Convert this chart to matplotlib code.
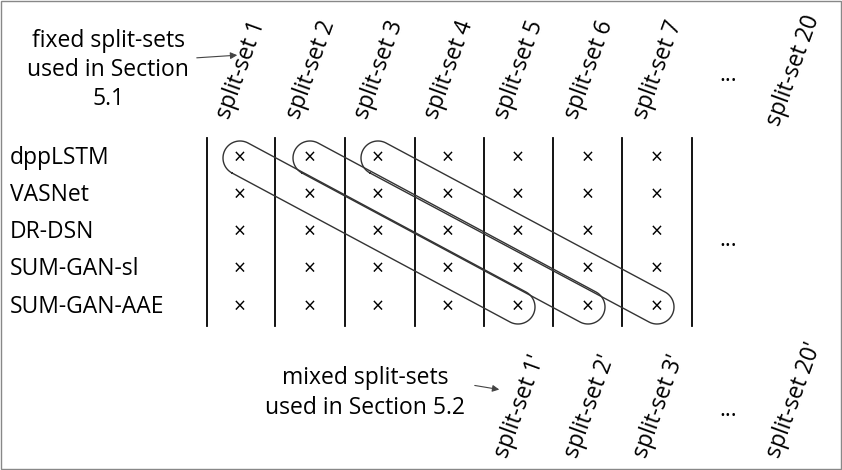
import numpy as np
import matplotlib.pyplot as plt

methods = ['dppLSTM', 'VASNet', 'DR-DSN', 'SUM-GAN-sl', 'SUM-GAN-AAE']
top_labels = ['split-set 1', 'split-set 2', 'split-set 3', 'split-set 4',
              'split-set 5', 'split-set 6', 'split-set 7']
mixed_labels = ["split-set 1'", "split-set 2'", "split-set 3'"]
n_mixed = 3

plt.rcParams['font.family'] = ['Open Sans', 'DejaVu Sans']
fig = plt.figure(figsize=(8.42, 4.7), dpi=100)
ax = fig.add_axes([0, 0, 1, 1])
ax.set_xlim(0, 842)
ax.set_ylim(470, 0)
ax.axis('off')

# frame
ax.add_patch(plt.Rectangle((1, 1), 840, 468, fill=False, ec='#888888', lw=1))

col_x = [240, 310, 378, 448, 518, 588, 657]
row_y = [158, 195, 232, 269, 307]
line_x = [207, 275, 345, 415, 484, 553, 622, 692]
fs = 16.5

for lx in line_x:
    ax.plot([lx, lx], [138, 326], color='black', lw=1.3)

for i, m in enumerate(methods):
    ax.text(10, row_y[i], m, fontsize=fs, va='center', ha='left')
    for cx in col_x:
        ax.text(cx, row_y[i], '×', fontsize=15, ha='center', va='center')
ax.text(728, 240, '...', fontsize=fs, ha='center', va='center')

for j, lab in enumerate(top_labels):
    ax.text(col_x[j] - 16, 118, lab, fontsize=fs, rotation=70,
            rotation_mode='anchor', ha='left', va='center')
ax.text(774, 125, 'split-set 20', fontsize=fs, rotation=70,
        rotation_mode='anchor', ha='left', va='center')
ax.text(728, 75, '...', fontsize=fs, ha='center', va='center')

# capsules for mixed split-sets
r = 17
for k in range(n_mixed):
    p0 = np.array([col_x[k], row_y[0]])
    p1 = np.array([col_x[k + 4], row_y[-1]])
    d = p1 - p0
    ang = np.arctan2(d[1], d[0])
    t1 = np.linspace(ang + np.pi / 2, ang + 3 * np.pi / 2, 40)
    t2 = np.linspace(ang - np.pi / 2, ang + np.pi / 2, 40)
    xs = np.concatenate([p0[0] + r * np.cos(t1), p1[0] + r * np.cos(t2), [p0[0] + r * np.cos(t1[0])]])
    ys = np.concatenate([p0[1] + r * np.sin(t1), p1[1] + r * np.sin(t2), [p0[1] + r * np.sin(t1[0])]])
    ax.plot(xs, ys, color='#333333', lw=1)

for j, lab in enumerate(mixed_labels):
    ax.text(col_x[j + 4] - 16, 457, lab, fontsize=fs, rotation=70,
            rotation_mode='anchor', ha='left', va='center')
ax.text(774, 457, "split-set 20'", fontsize=fs, rotation=70,
        rotation_mode='anchor', ha='left', va='center')
ax.text(728, 410, '...', fontsize=fs, ha='center', va='center')

ax.text(108, 70, 'fixed split-sets\nused in Section\n5.1', fontsize=fs,
        ha='center', va='center', linespacing=1.3)
ax.annotate('', xy=(240, 55), xytext=(194, 58),
            arrowprops=dict(arrowstyle='-|>', color='#444444', lw=0.8))
ax.text(365, 393, 'mixed split-sets\nused in Section 5.2', fontsize=fs,
        ha='center', va='center', linespacing=1.3)
ax.annotate('', xy=(502, 390), xytext=(472, 385),
            arrowprops=dict(arrowstyle='-|>', color='#444444', lw=0.8))

fig.savefig('out.png', dpi=100)
